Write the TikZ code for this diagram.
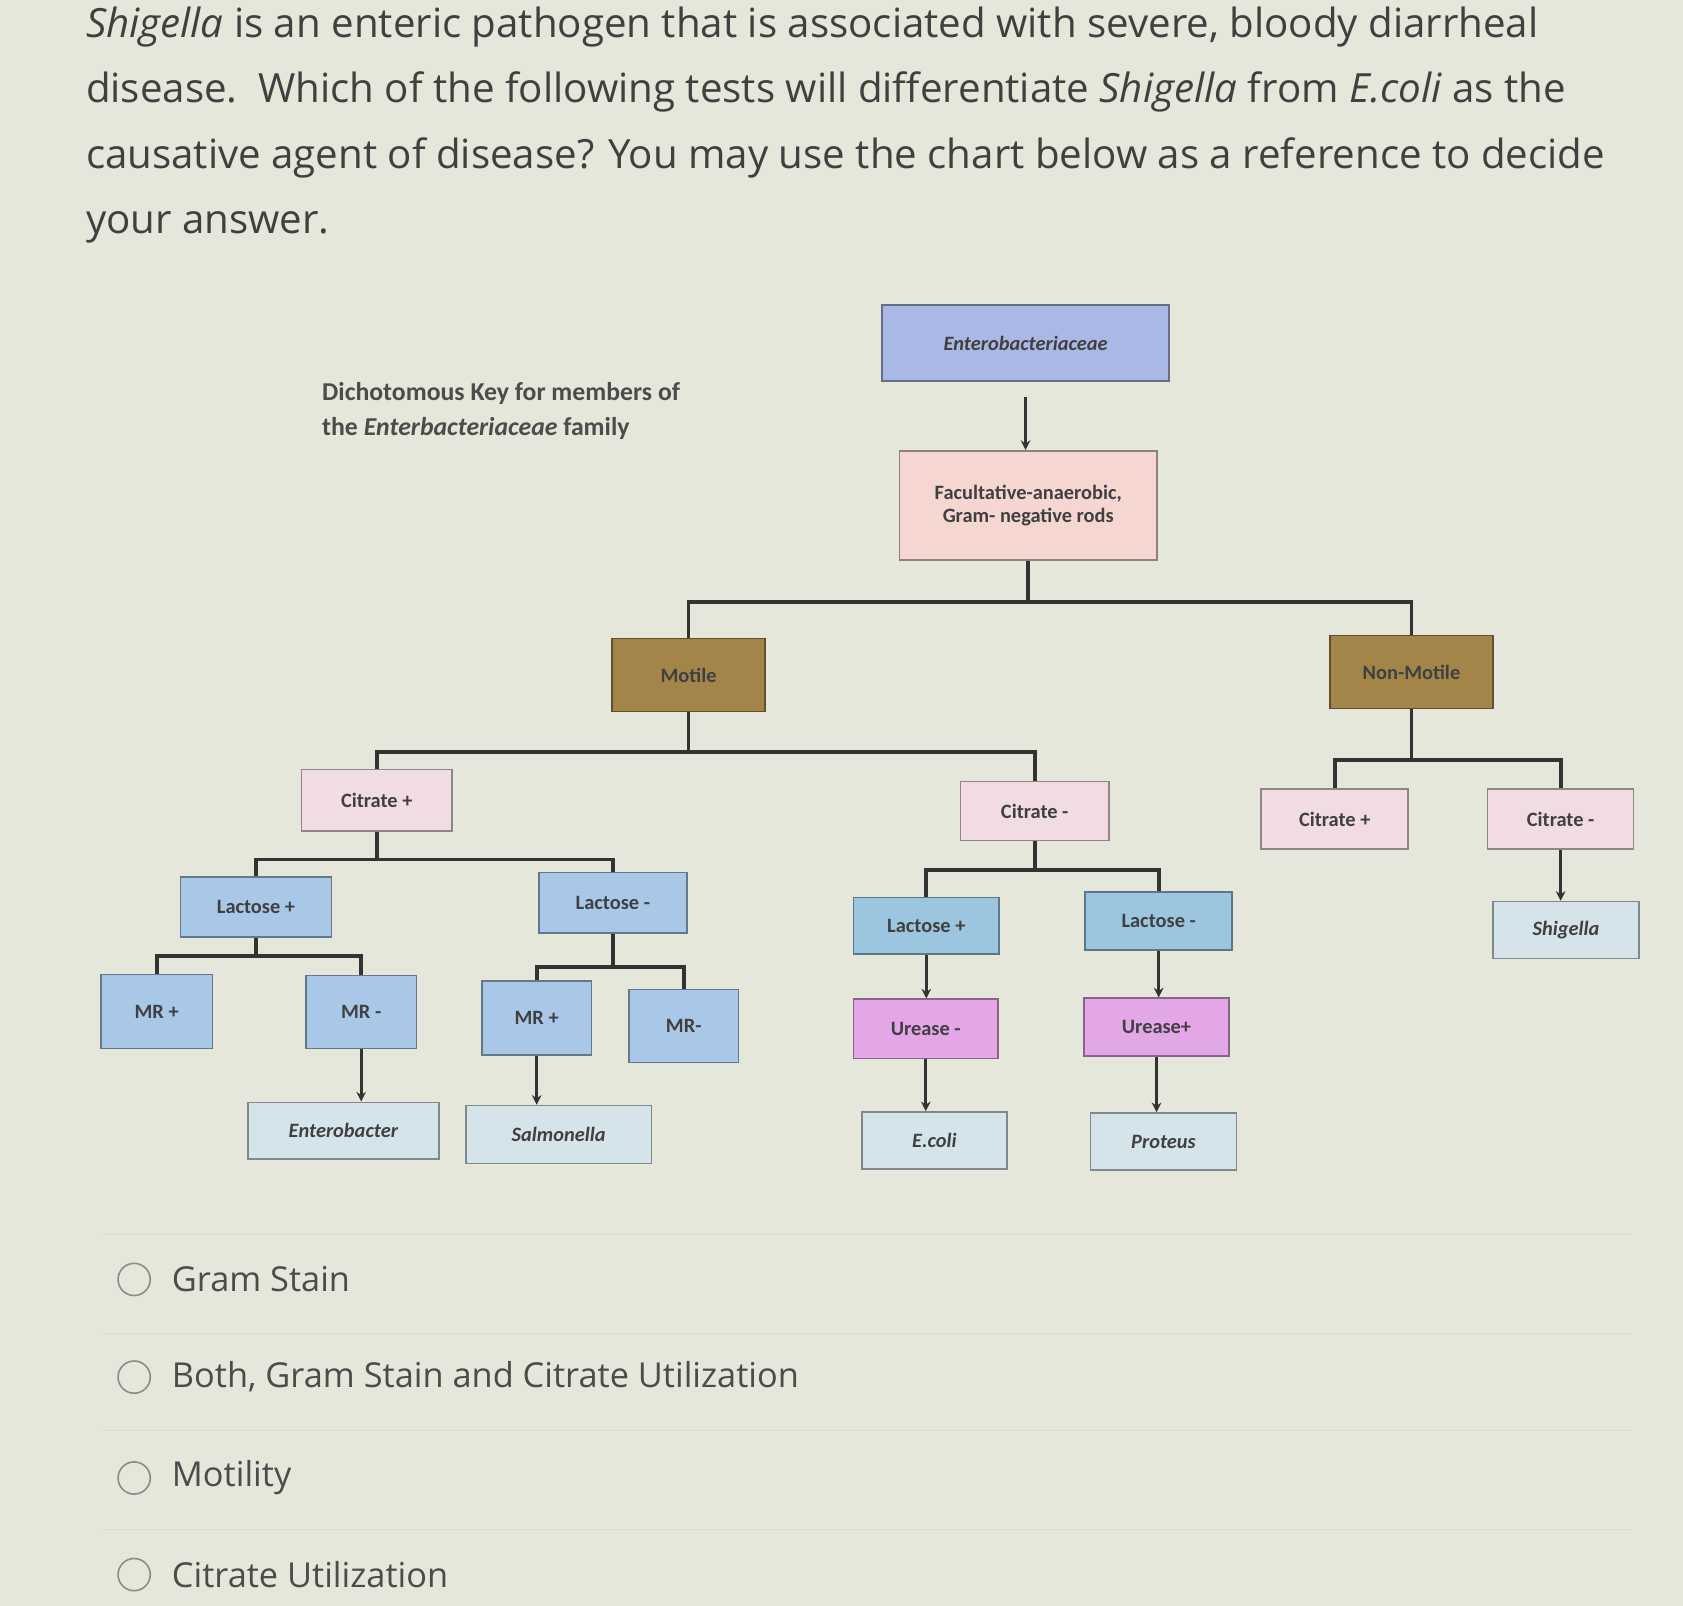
\documentclass[tikz,border=0pt]{standalone}
\usepackage{fontspec}
\setmainfont{Open Sans}
\newfontfamily\keyfont{Carlito}
\begin{document}
\begin{tikzpicture}[x=1pt,y=-1pt,
 bx/.style={draw=#1!60!black,line width=1.5pt,inner sep=0pt,font=\keyfont\fontsize{19}{22}\selectfont\bfseries,text=black!75},
 ln/.style={line width=3.5pt,draw=black!80},
 ar/.style={line width=2.5pt,draw=black!80,-{Stealth[length=9pt,width=9pt]}},
 sep/.style={draw=black!15,line width=1pt}]
\usetikzlibrary{arrows.meta}
\definecolor{bgc}{HTML}{E4E7DA}
\definecolor{lav}{HTML}{AAB8E6}
\definecolor{pk}{HTML}{F5D6D0}
\definecolor{br}{HTML}{A3854A}
\definecolor{lpk}{HTML}{F1DCE3}
\definecolor{bl}{HTML}{A9C8E8}
\definecolor{bl2}{HTML}{9CC6E0}
\definecolor{gr}{HTML}{D5E3EA}
\definecolor{vi}{HTML}{E3A6E6}
\fill[bgc] (0,0) rectangle (1568,1496);
\useasboundingbox (0,0) rectangle (1568,1496);
% question
\node[anchor=north west,align=left,font=\fontsize{37.5}{61}\selectfont,text=black!75,inner sep=0pt] (q) at (80,6)
{\textit{Shigella} is an enteric pathogen that is associated with severe, bloody diarrheal\\
disease.\ \ Which of the following tests will differentiate \textit{Shigella} from \textit{E.coli} as the\\
causative agent of disease? You may use the chart below as a reference to decide\\
your answer.};
\node[anchor=north west,align=left,font=\keyfont\fontsize{24}{33}\selectfont\bfseries,text=black!70,inner sep=0pt] (title) at (300,356)
{Dichotomous Key for members of\\ the \textit{Enterbacteriaceae} family};
\newcommand{\bxat}[7]{\node[bx=#6,fill=#6,minimum width=#3-#1,minimum height=#4-#2] (#5) at ({(#1+#3)/2},{(#2+#4)/2}) {#7};}
\bxat{822}{284}{1089}{355}{ent}{lav}{\textit{Enterobacteriaceae}}
\node[bx=pk,fill=pk,minimum width=240,minimum height=102,align=center] (fac) at (958,471) {Facultative-anaerobic,\\Gram- negative rods};
\bxat{570}{595}{713}{663}{mot}{br}{Motile}
\bxat{1239}{592}{1391}{660}{nmot}{br}{Non-Motile}
\bxat{281}{717}{421}{774}{cp}{lpk}{Citrate +}
\bxat{895}{728}{1033}{783}{cm}{lpk}{Citrate -}
\bxat{1175}{735}{1312}{791}{ncp}{lpk}{Citrate +}
\bxat{1386}{735}{1522}{791}{ncm}{lpk}{Citrate -}
\bxat{1391}{840}{1527}{893}{shi}{gr}{\textit{Shigella}}
\bxat{168}{817}{309}{873}{lp1}{bl}{Lactose +}
\bxat{502}{813}{640}{869}{lm1}{bl}{Lactose -}
\bxat{94}{908}{198}{977}{mrp1}{bl}{MR +}
\bxat{285}{909}{388}{977}{mrm1}{bl}{MR -}
\bxat{449}{914}{551}{983}{mrp2}{bl}{MR +}
\bxat{586}{922}{688}{990}{mrm2}{bl}{MR-}
\bxat{231}{1027}{409}{1080}{entb}{gr}{\textit{Enterobacter}}
\bxat{434}{1030}{607}{1084}{sal}{gr}{\textit{Salmonella}}
\bxat{795}{836}{931}{889}{lp2}{bl2}{Lactose +}
\bxat{1011}{831}{1148}{885}{lm2}{bl2}{Lactose -}
\bxat{795}{931}{930}{986}{um}{vi}{Urease -}
\bxat{1010}{930}{1145}{984}{up}{vi}{Urease+}
\bxat{803}{1036}{938}{1089}{eco}{gr}{\textit{E.coli}}
\bxat{1016}{1037}{1152}{1090}{pro}{gr}{\textit{Proteus}}
% connectors
\draw[ar] ([yshift=-14pt]ent.south) -- (fac.north-|ent.south);
\draw[ln] (fac.south) -- ++(0,38) coordinate (j1) -| (mot.north);
\draw[ln] (j1) -| (nmot.north);
\draw[ln] (mot.south) -- ++(0,37) coordinate (j2) -| (cp.north);
\draw[ln] (j2) -| (cm.north);
\draw[ln] (nmot.south) -- ++(0,47) coordinate (j3) -| (ncp.north);
\draw[ln] (j3) -| (ncm.north);
\draw[ar] (ncm.south) -- (shi.north-|ncm.south);
\draw[ln] (cp.south) -- ++(0,26) coordinate (j4) -| (lp1.north);
\draw[ln] (j4) -| (lm1.north);
\draw[ln] (lp1.south) -- ++(0,17) coordinate (j5) -| (mrp1.north);
\draw[ln] (j5) -| (mrm1.north);
\draw[ln] (lm1.south) -- ++(0,31) coordinate (j6) -| (mrp2.north);
\draw[ln] (j6) -| (mrm2.north);
\draw[ar] (mrm1.south) -- (entb.north-|mrm1.south);
\draw[ar] (mrp2.south) -- (sal.north-|mrp2.south);
\draw[ln] (cm.south) -- ++(0,27) coordinate (j7) -| (lp2.north);
\draw[ln] (j7) -| (lm2.north);
\draw[ar] (lp2.south) -- (um.north-|lp2.south);
\draw[ar] (lm2.south) -- (up.north-|lm2.south);
\draw[ar] (um.south) -- (eco.north-|um.south);
\draw[ar] (up.south) -- (pro.north-|up.south);
% answers
\foreach \y in {1150,1242,1333,1425} \draw[sep] (95,\y) -- (1520,\y);
\foreach \y/\t/\n in {1192/Gram Stain/a1,1283/{Both, Gram Stain and Citrate Utilization}/a2,1377/Motility/a3,1467/Citrate Utilization/a4}{
 \draw[black!45,line width=1.5pt] (125,\y) circle (15);
 \node[anchor=west,font=\fontsize{32}{36}\selectfont,text=black!70,inner sep=0pt] (\n) at (160,\y) {\t};}
\end{tikzpicture}
\end{document}
